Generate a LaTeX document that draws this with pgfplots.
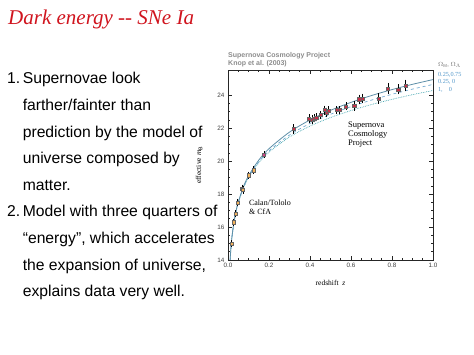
\documentclass[border=0pt]{standalone}
\usepackage{pgfplots}
\pgfplotsset{compat=1.18}
\usepackage{fontspec}
\setmainfont{Liberation Sans}
\newfontfamily\seriffont{Liberation Serif}
\definecolor{titlered}{HTML}{D0141E}
\definecolor{cA}{HTML}{5E8FA8}
\definecolor{cB}{HTML}{6FA8D0}
\definecolor{cC}{HTML}{3FA3AE}
\definecolor{legblue}{HTML}{4F95C8}
\definecolor{ptred}{HTML}{C8304A}
\definecolor{ptorange}{HTML}{F2B25A}
\definecolor{ptmag}{HTML}{D0408A}
\begin{document}
\begin{tikzpicture}[x=1pt,y=1pt]
\useasboundingbox (0,0) rectangle (474,355);
\node[anchor=base west, font=\seriffont\itshape\fontsize{21}{24}\selectfont, text=titlered, inner sep=0] at (8,330) {Dark energy -{}- SNe Ia};
\begin{scope}[every node/.style={anchor=base west, inner sep=0, font=\fontsize{15.7}{18}\selectfont}]
\node at (7,271) {1.};
\node at (22.6,271) {Supernovae look};
\node at (22.6,244.4) {farther/fainter than};
\node at (22.6,217.8) {prediction by the model of};
\node at (22.6,191.2) {universe composed by};
\node at (22.6,164.6) {matter.};
\node at (7,138) {2.};
\node at (22.6,138) {Model with three quarters of};
\node at (22.6,111.4) {``energy'', which accelerates};
\node at (22.6,84.8) {the expansion of universe,};
\node at (22.6,58.2) {explains data very well.};
\end{scope}
\begin{axis}[
  at={(228pt,95pt)}, anchor=south west,
  scale only axis, width=205pt, height=189.5pt,
  xmin=0, xmax=1.0, ymin=14, ymax=25.5,
  xtick={0,0.2,...,1.0}, ytick={14,16,...,24},
  minor x tick num=3, minor y tick num=3,
  tick align=inside, major tick length=4pt, minor tick length=2pt,
  xtick pos=both, ytick pos=both,
  axis line style={black!85, line width=0.8pt},
  every tick/.style={black!85, line width=0.6pt},
  tick label style={font=\fontsize{6.3}{7}\selectfont, text=black!75},
  /pgf/number format/assume math mode=true,
  xticklabel style={/pgf/number format/.cd, fixed, fixed zerofill, precision=1},
  xlabel={\seriffont redshift\ \ \textit{z}},
  xlabel style={font=\fontsize{7.5}{8}\selectfont, at={(axis description cs:0.5,-0.121)}, anchor=center},
  ylabel={\seriffont effective \textit{m}$_{\rm B}$},
  ylabel style={font=\fontsize{7.5}{8}\selectfont, at={(axis description cs:-0.141,0.5)}, anchor=center, rotate=0},
  clip mode=individual,
]
\addplot[cC, densely dotted, line width=0.7pt, smooth] coordinates {(0.01,13.945)(0.015,14.83)(0.02,15.456)(0.03,16.342)(0.04,16.971)(0.05,17.461)(0.075,18.354)(0.1,18.991)(0.15,19.895)(0.2,20.542)(0.3,21.463)(0.4,22.125)(0.5,22.644)(0.6,23.071)(0.7,23.434)(0.8,23.751)(0.9,24.032)(1.0,24.284)};
\addplot[cB, dashed, line width=0.7pt, smooth] coordinates {(0.01,13.950)(0.015,14.835)(0.02,15.464)(0.03,16.354)(0.04,16.988)(0.05,17.482)(0.075,18.385)(0.1,19.032)(0.15,19.956)(0.2,20.623)(0.3,21.584)(0.4,22.285)(0.5,22.842)(0.6,23.306)(0.7,23.705)(0.8,24.056)(0.9,24.371)(1.0,24.655)};
\addplot[cA, solid, line width=0.8pt, smooth] coordinates {(0.01,13.958)(0.015,14.847)(0.02,15.480)(0.03,16.378)(0.04,17.019)(0.05,17.520)(0.075,18.441)(0.1,19.105)(0.15,20.060)(0.2,20.754)(0.3,21.761)(0.4,22.497)(0.5,23.081)(0.6,23.566)(0.7,23.980)(0.8,24.341)(0.9,24.661)(1.0,24.949)};
% low-z
\addplot[only marks, mark=square*, mark size=1.6pt, mark options={fill=ptorange, draw=black!60, line width=0.3pt},
  error bars/.cd, y dir=both, y explicit, error bar style={black, line width=0.6pt}, error mark options={black, mark size=1.5pt, line width=0.6pt}]
  coordinates {(0.017,15.0) +- (0,0.12) (0.028,16.3) +- (0,0.12) (0.036,16.8) +- (0,0.12) (0.047,17.5) +- (0,0.12) (0.068,18.35) +- (0,0.14) (0.073,18.25) +- (0,0.14) (0.101,19.15) +- (0,0.12) (0.125,19.45) +- (0,0.15)};
\addplot[only marks, mark=square*, mark size=1.6pt, mark options={fill=ptmag, draw=black!60, line width=0.3pt},
  error bars/.cd, y dir=both, y explicit, error bar style={black, line width=0.6pt}, error mark options={black, mark size=1.5pt, line width=0.6pt}]
  coordinates {(0.175,20.4) +- (0,0.12)};
% high-z
\addplot[only marks, mark=square*, mark size=1.6pt, mark options={fill=ptred, draw=black!60, line width=0.3pt},
  error bars/.cd, y dir=both, y explicit, error bar style={black, line width=0.6pt}, error mark options={black, mark size=1.5pt, line width=0.6pt}]
  coordinates {
  (0.32,21.96) +- (0,0.2)
  (0.395,22.56) +- (0,0.18)
  (0.41,22.5) +- (0,0.18)
  (0.42,22.6) +- (0,0.15)
  (0.43,22.65) +- (0,0.15)
  (0.45,22.8) +- (0,0.15)
  (0.47,23.1) +- (0,0.18)
  (0.48,22.95) +- (0,0.2)
  (0.49,23.05) +- (0,0.18)
  (0.53,23.1) +- (0,0.15)
  (0.545,23.1) +- (0,0.15)
  (0.575,23.33) +- (0,0.15)
  (0.615,23.36) +- (0,0.22)
  (0.64,23.76) +- (0,0.18)
  (0.655,23.8) +- (0,0.2)
  (0.735,23.8) +- (0,0.22)
  (0.78,24.4) +- (0,0.25)
  (0.83,24.36) +- (0,0.22)
  (0.865,24.6) +- (0,0.25)
  };
\node[anchor=west, align=left, font=\seriffont\fontsize{8.5}{9}\selectfont, inner sep=0] at (axis cs:0.585,21.64) {Supernova\\Cosmology\\Project};
\node[anchor=west, align=left, font=\seriffont\fontsize{8}{8.5}\selectfont, inner sep=0] at (axis cs:0.102,17.2) {Calan/Tololo\\\& CfA};
\node[anchor=west, font=\bfseries\fontsize{7}{8}\selectfont, text=black!45, inner sep=0] at (axis description cs:0.0,1.079) {Supernova Cosmology Project};
\node[anchor=west, font=\bfseries\fontsize{7}{8}\selectfont, text=black!45, inner sep=0] at (axis description cs:0.0,1.035) {Knop et al. (2003)};
\node[anchor=west, font=\seriffont\fontsize{6.2}{7}\selectfont, text=black!55, inner sep=0] at (axis description cs:1.024,1.029) {$\Omega_{\rm M}$, $\Omega_\Lambda$};
\node[anchor=west, font=\seriffont\fontsize{6.2}{7}\selectfont, text=legblue, inner sep=0] at (axis description cs:1.024,0.976) {0.25,0.75};
\node[anchor=west, font=\seriffont\fontsize{6.2}{7}\selectfont, text=legblue, inner sep=0] at (axis description cs:1.024,0.938) {0.25,\ 0};
\node[anchor=west, font=\seriffont\fontsize{6.2}{7}\selectfont, text=legblue, inner sep=0] at (axis description cs:1.024,0.897) {1,\ \ \ \ 0};
\end{axis}
\end{tikzpicture}
\end{document}
